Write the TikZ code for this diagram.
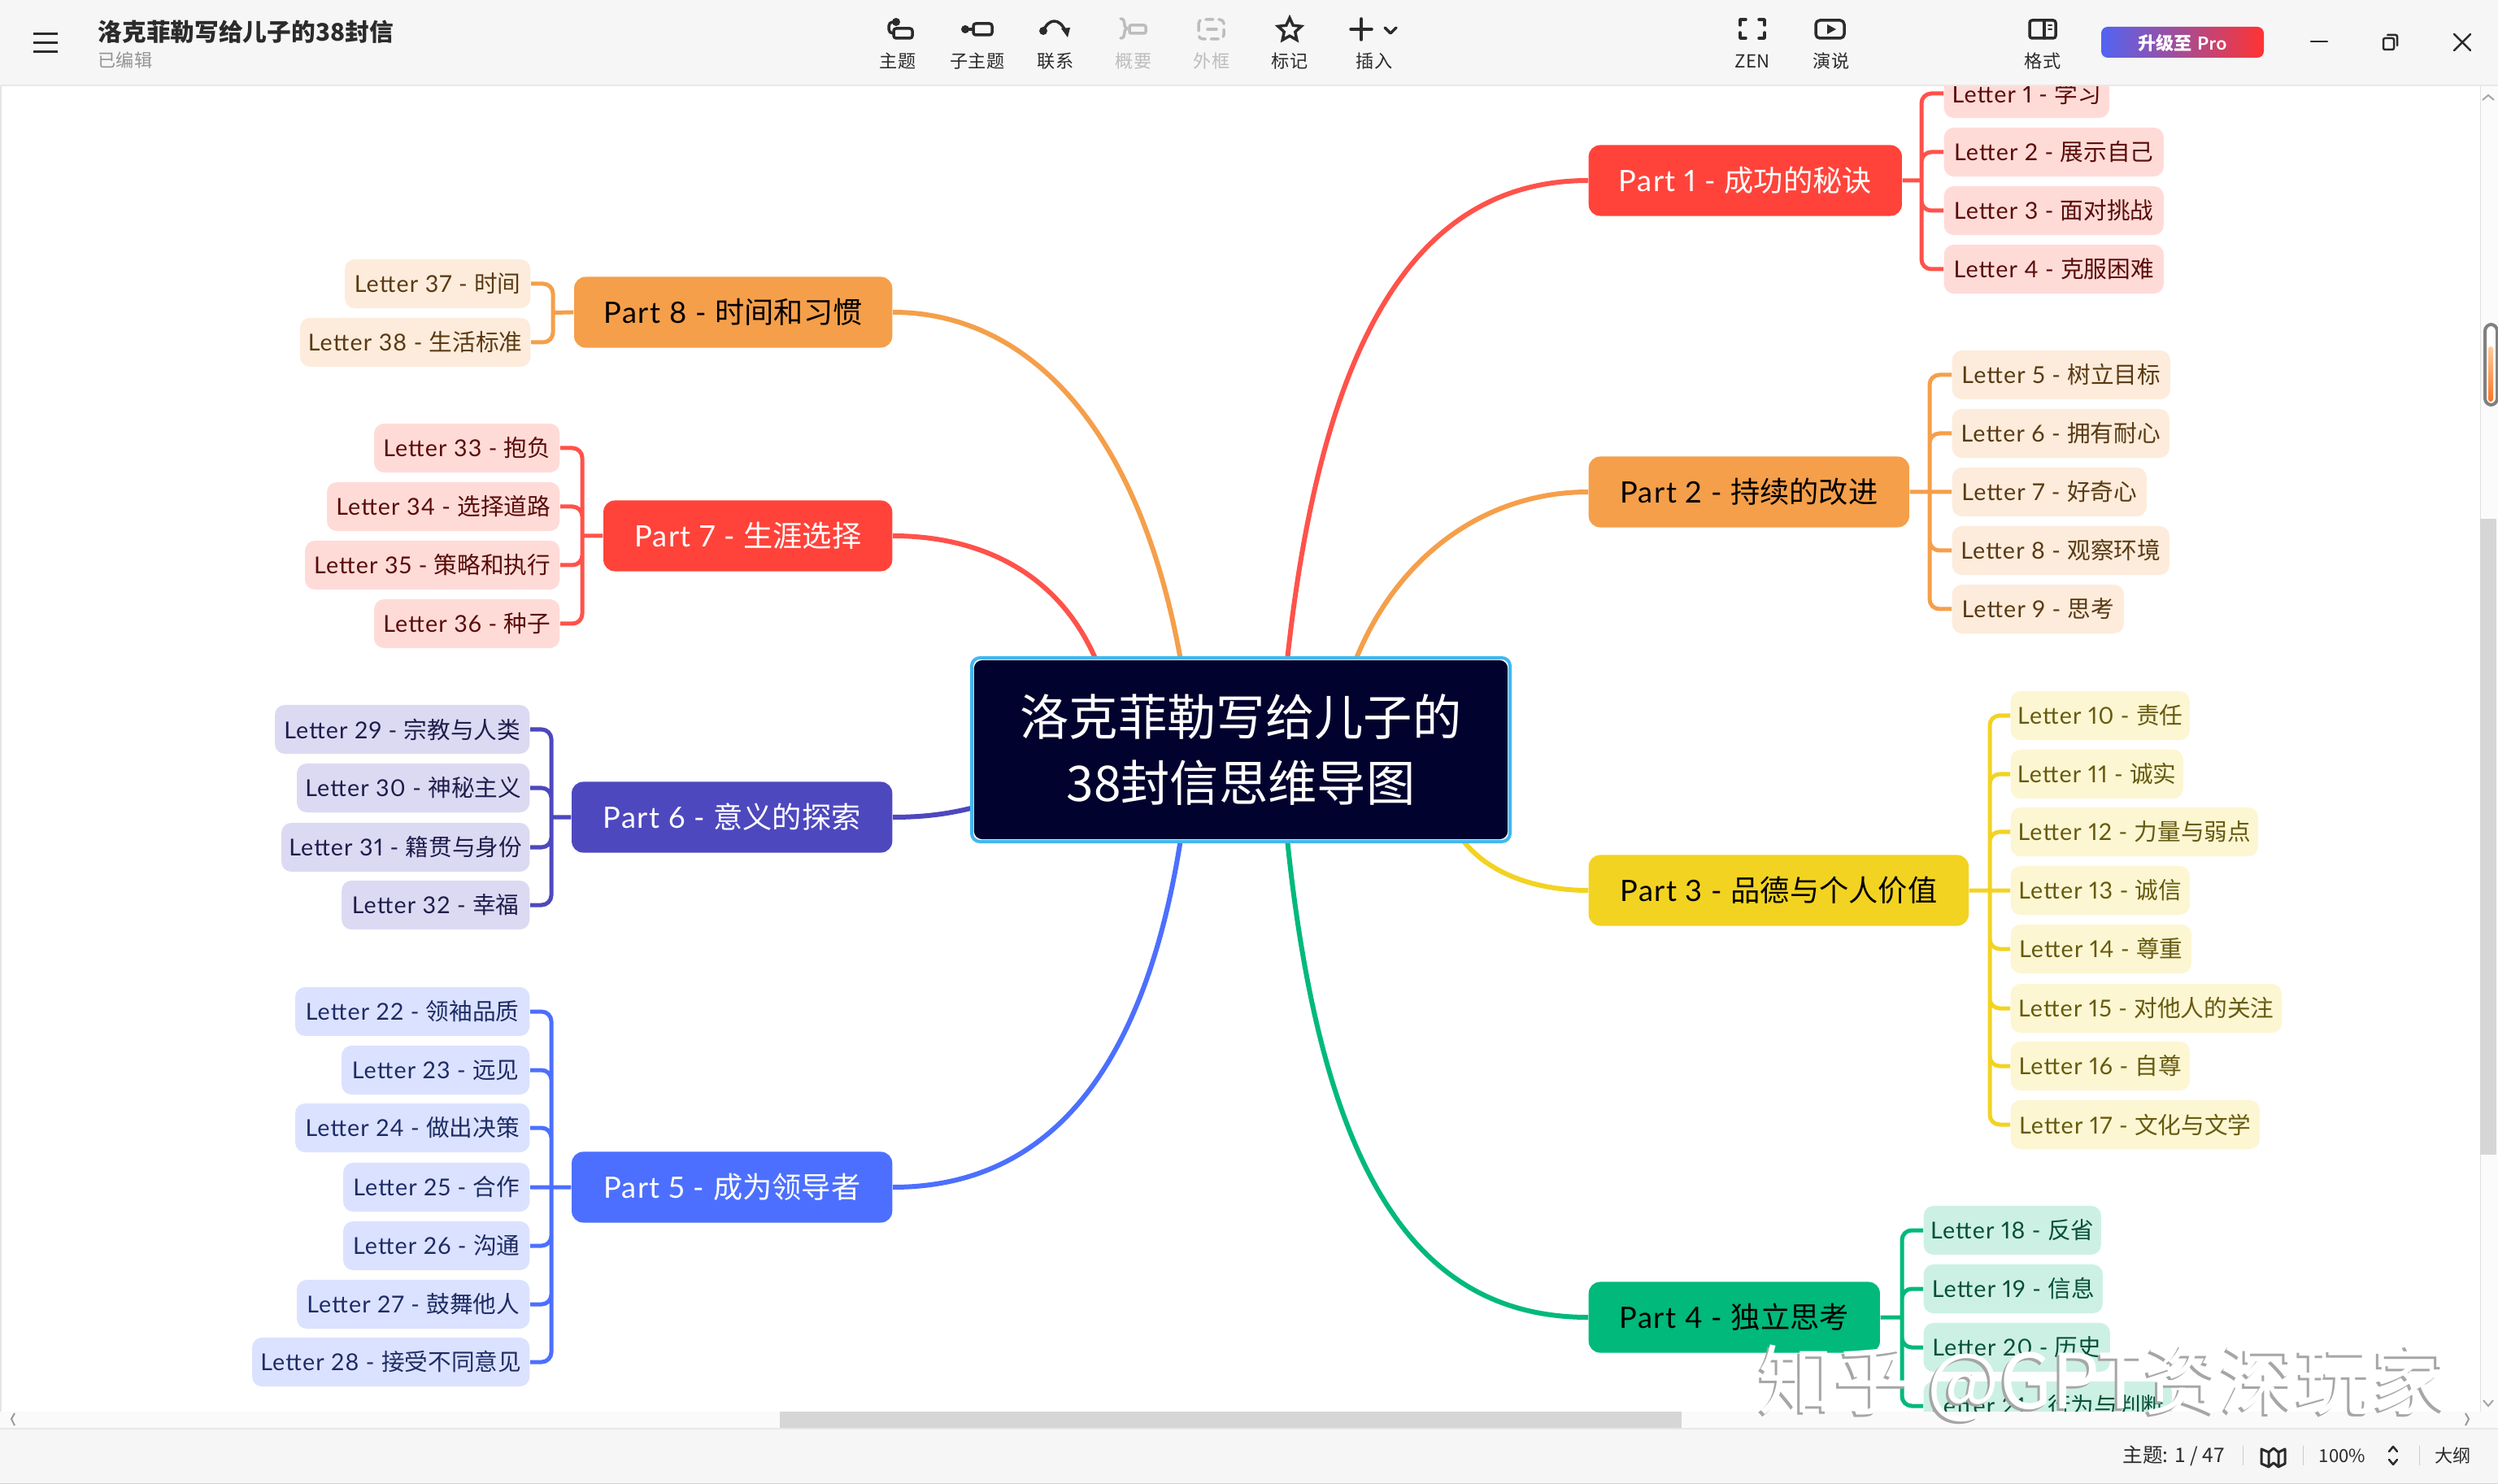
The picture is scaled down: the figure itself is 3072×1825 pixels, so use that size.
\documentclass[tikz,border=0pt]{standalone}
\usepackage{fontspec}
\setmainfont{Lato}[LetterSpace=4,Numbers=Proportional]
\newfontfamily\cjk{Noto Sans CJK SC}
\usetikzlibrary{arrows.meta,shapes.geometric}
\definecolor{barbg}{HTML}{F6F6F6}
\definecolor{icondark}{HTML}{2B2B2B}
\definecolor{icongray}{HTML}{BDBDBD}
\definecolor{rootdark}{HTML}{02022E}
\definecolor{rootframe}{HTML}{41B8F0}
\definecolor{cred}{HTML}{FF433A}
\definecolor{corange}{HTML}{F59F4A}
\definecolor{cyellow}{HTML}{F3D321}
\definecolor{cgreen}{HTML}{00B97A}
\definecolor{cblue}{HTML}{4C6FFF}
\definecolor{cindigo}{HTML}{4E48BE}
\definecolor{bgred}{HTML}{FFDBD8}
\definecolor{bgorange}{HTML}{FDECDB}
\definecolor{bgyellow}{HTML}{FCF6D2}
\definecolor{bggreen}{HTML}{CCF1E4}
\definecolor{bgblue}{HTML}{DBE2FF}
\definecolor{bgindigo}{HTML}{DCDAF2}
\definecolor{txred}{HTML}{5A0C08}
\definecolor{txorange}{HTML}{5A3A14}
\definecolor{txyellow}{HTML}{665A10}
\definecolor{txgreen}{HTML}{064F38}
\definecolor{txblue}{HTML}{1E2C66}
\definecolor{txindigo}{HTML}{1F1D4C}
\tikzset{
  leaf/.style={rounded corners=.12cm,minimum height=.6cm,inner sep=0pt,font=\fontsize{8.15}{10}\selectfont},
  part/.style={rounded corners=.14cm,minimum height=.87cm,inner sep=0pt,font=\fontsize{10.3}{12}\selectfont},
  curve/.style={line width=.06cm},
  branch/.style={line width=.05cm,rounded corners=.12cm},
  barlabel/.style={inner sep=0pt,text=icondark,font=\fontsize{6.3}{8}\selectfont\cjk},
  barlabeloff/.style={barlabel,text=icongray},
  statustext/.style={anchor=west,inner sep=0pt,text=icondark,font=\fontsize{6.3}{8}\selectfont\cjk},
  icon/.style={line width=.035cm,draw=icondark,line cap=round,line join=round},
  iconoff/.style={icon,draw=icongray},
}
\begin{document}
\begin{tikzpicture}[x=.01cm,y=-.01cm]
  \useasboundingbox (0,0) rectangle (3072,1825);
  \fill[white] (0,0) rectangle (3072,1825);

  %% Curves from the centre
  \coordinate (rootup1) at (1583,812);
  \coordinate (rootup2) at (1667,812);
  \coordinate (rootup7) at (1348,812);
  \coordinate (rootup8) at (1452,812);
  \coordinate (rootlow3) at (1798,1032);
  \coordinate (rootlow4) at (1583,1032);
  \coordinate (rootlow5) at (1452,1032);
  \coordinate (rootleft6) at (1198,993);

  %% Parts
  \node[part,anchor=west,fill=cred,text=white,minimum width=3.85cm] (part1) at (1953,222) {Part 1 - {\cjk 成功的秘诀}};
  \node[part,anchor=west,fill=corange,text=black,minimum width=3.94cm] (part2) at (1953,605) {Part 2 - {\cjk 持续的改进}};
  \node[part,anchor=west,fill=cyellow,text=black,minimum width=4.67cm] (part3) at (1953,1095) {Part 3 - {\cjk 品德与个人价值}};
  \node[part,anchor=west,fill=cgreen,text=black,minimum width=3.58cm] (part4) at (1953,1620) {Part 4 - {\cjk 独立思考}};
  \node[part,anchor=east,fill=cblue,text=white,minimum width=3.94cm] (part5) at (1098,1460) {Part 5 - {\cjk 成为领导者}};
  \node[part,anchor=east,fill=cindigo,text=white,minimum width=3.94cm] (part6) at (1098,1005) {Part 6 - {\cjk 意义的探索}};
  \node[part,anchor=east,fill=cred,text=white,minimum width=3.55cm] (part7) at (1098,659) {Part 7 - {\cjk 生涯选择}};
  \node[part,anchor=east,fill=corange,text=black,minimum width=3.91cm] (part8) at (1098,384) {Part 8 - {\cjk 时间和习惯}};

  \draw[curve,cred!92!white] (part1.west) .. controls (1740,222) and (1625,420) .. (rootup1);
  \draw[curve,corange] (part2.west) .. controls (1830,605) and (1720,680) .. (rootup2);
  \draw[curve,cyellow] (part3.west) .. controls (1890,1095) and (1830,1075) .. (rootlow3);
  \draw[curve,cgreen] (part4.west) .. controls (1740,1620) and (1625,1440) .. (rootlow4);
  \draw[curve,cblue] (part5.east) .. controls (1300,1460) and (1410,1300) .. (rootlow5);
  \draw[curve,cindigo] (part6.east) .. controls (1140,1005) and (1170,1000) .. (rootleft6);
  \draw[curve,cred!92!white] (part7.east) .. controls (1200,659) and (1300,700) .. (rootup7);
  \draw[curve,corange] (part8.east) .. controls (1260,384) and (1400,520) .. (rootup8);

  %% Centre topic
  \draw[rootframe,line width=.04cm,fill=white,rounded corners=.1cm] (1195,809) rectangle (1857,1035);
  \node[fill=rootdark,text=white,rounded corners=.1cm,minimum width=6.56cm,minimum height=2.2cm,inner sep=0pt,
        align=center,font=\fontsize{17.15}{22.8}\selectfont\cjk] (root) at (1526,922) {洛克菲勒写给儿子的\\38封信思维导图};

  %% Part 1
  \node[leaf,anchor=west,fill=bgred,text=txred,minimum width=2.03cm] (l1) at (2390,115) {Letter 1 - {\cjk 学习}};
  \node[leaf,anchor=west,fill=bgred,text=txred,minimum width=2.70cm] (l2) at (2390,187) {Letter 2 - {\cjk 展示自己}};
  \node[leaf,anchor=west,fill=bgred,text=txred,minimum width=2.70cm] (l3) at (2390,259) {Letter 3 - {\cjk 面对挑战}};
  \node[leaf,anchor=west,fill=bgred,text=txred,minimum width=2.70cm] (l4) at (2390,331) {Letter 4 - {\cjk 克服困难}};
  \coordinate (trunk1) at (2363,222);
  \draw[branch,cred!92!white] (part1.east) -- (trunk1) (trunk1) |- (l1.west) (trunk1) |- (l2.west) (trunk1) |- (l3.west) (trunk1) |- (l4.west);

  %% Part 2
  \node[leaf,anchor=west,fill=bgorange,text=txorange,minimum width=2.68cm] (l5) at (2400,461) {Letter 5 - {\cjk 树立目标}};
  \node[leaf,anchor=west,fill=bgorange,text=txorange,minimum width=2.67cm] (l6) at (2400,533) {Letter 6 - {\cjk 拥有耐心}};
  \node[leaf,anchor=west,fill=bgorange,text=txorange,minimum width=2.39cm] (l7) at (2400,605) {Letter 7 - {\cjk 好奇心}};
  \node[leaf,anchor=west,fill=bgorange,text=txorange,minimum width=2.67cm] (l8) at (2400,677) {Letter 8 - {\cjk 观察环境}};
  \node[leaf,anchor=west,fill=bgorange,text=txorange,minimum width=2.11cm] (l9) at (2400,749) {Letter 9 - {\cjk 思考}};
  \coordinate (trunk2) at (2373,605);
  \draw[branch,corange] (part2.east) -- (l7.west) (trunk2) |- (l5.west) (trunk2) |- (l6.west) (trunk2) |- (l8.west) (trunk2) |- (l9.west);

  %% Part 3
  \node[leaf,anchor=west,fill=bgyellow,text=txyellow,minimum width=2.20cm] (l10) at (2472,880) {Letter 10 - {\cjk 责任}};
  \node[leaf,anchor=west,fill=bgyellow,text=txyellow,minimum width=2.12cm] (l11) at (2472,952) {Letter 11 - {\cjk 诚实}};
  \node[leaf,anchor=west,fill=bgyellow,text=txyellow,minimum width=3.04cm] (l12) at (2472,1023) {Letter 12 - {\cjk 力量与弱点}};
  \node[leaf,anchor=west,fill=bgyellow,text=txyellow,minimum width=2.20cm] (l13) at (2472,1095) {Letter 13 - {\cjk 诚信}};
  \node[leaf,anchor=west,fill=bgyellow,text=txyellow,minimum width=2.22cm] (l14) at (2472,1167) {Letter 14 - {\cjk 尊重}};
  \node[leaf,anchor=west,fill=bgyellow,text=txyellow,minimum width=3.33cm] (l15) at (2472,1240) {Letter 15 - {\cjk 对他人的关注}};
  \node[leaf,anchor=west,fill=bgyellow,text=txyellow,minimum width=2.20cm] (l16) at (2472,1311) {Letter 16 - {\cjk 自尊}};
  \node[leaf,anchor=west,fill=bgyellow,text=txyellow,minimum width=3.06cm] (l17) at (2472,1383) {Letter 17 - {\cjk 文化与文学}};
  \coordinate (trunk3) at (2447,1095);
  \draw[branch,cyellow] (part3.east) -- (l13.west) (trunk3) |- (l10.west) (trunk3) |- (l11.west) (trunk3) |- (l12.west)
        (trunk3) |- (l14.west) (trunk3) |- (l15.west) (trunk3) |- (l16.west) (trunk3) |- (l17.west);

  %% Part 4
  \node[leaf,anchor=west,fill=bggreen,text=txgreen,minimum width=2.18cm] (l18) at (2365,1513) {Letter 18 - {\cjk 反省}};
  \node[leaf,anchor=west,fill=bggreen,text=txgreen,minimum width=2.20cm] (l19) at (2365,1585) {Letter 19 - {\cjk 信息}};
  \node[leaf,anchor=west,fill=bggreen,text=txgreen,minimum width=2.29cm] (l20) at (2365,1657) {Letter 20 - {\cjk 历史}};
  \node[leaf,anchor=west,fill=bggreen,text=txgreen,minimum width=3.05cm] (l21) at (2365,1729) {Letter 21 - {\cjk 行为与判断}};
  \coordinate (trunk4) at (2339,1620);
  \draw[branch,cgreen] (part4.east) -- (trunk4) (trunk4) |- (l18.west) (trunk4) |- (l19.west) (trunk4) |- (l20.west) (trunk4) |- (l21.west);

  %% Part 5
  \node[leaf,anchor=east,fill=bgblue,text=txblue,minimum width=2.88cm] (l22) at (652,1244) {Letter 22 - {\cjk 领袖品质}};
  \node[leaf,anchor=east,fill=bgblue,text=txblue,minimum width=2.31cm] (l23) at (652,1316) {Letter 23 - {\cjk 远见}};
  \node[leaf,anchor=east,fill=bgblue,text=txblue,minimum width=2.88cm] (l24) at (652,1387) {Letter 24 - {\cjk 做出决策}};
  \node[leaf,anchor=east,fill=bgblue,text=txblue,minimum width=2.29cm] (l25) at (652,1460) {Letter 25 - {\cjk 合作}};
  \node[leaf,anchor=east,fill=bgblue,text=txblue,minimum width=2.29cm] (l26) at (652,1532) {Letter 26 - {\cjk 沟通}};
  \node[leaf,anchor=east,fill=bgblue,text=txblue,minimum width=2.86cm] (l27) at (652,1604) {Letter 27 - {\cjk 鼓舞他人}};
  \node[leaf,anchor=east,fill=bgblue,text=txblue,minimum width=3.41cm] (l28) at (652,1675) {Letter 28 - {\cjk 接受不同意见}};
  \coordinate (trunk5) at (678,1460);
  \draw[branch,cblue] (part5.west) -- (l25.east) (trunk5) |- (l22.east) (trunk5) |- (l23.east) (trunk5) |- (l24.east)
        (trunk5) |- (l26.east) (trunk5) |- (l27.east) (trunk5) |- (l28.east);

  %% Part 6
  \node[leaf,anchor=east,fill=bgindigo,text=txindigo,minimum width=3.13cm] (l29) at (652,897) {Letter 29 - {\cjk 宗教与人类}};
  \node[leaf,anchor=east,fill=bgindigo,text=txindigo,minimum width=2.86cm] (l30) at (652,969) {Letter 30 - {\cjk 神秘主义}};
  \node[leaf,anchor=east,fill=bgindigo,text=txindigo,minimum width=3.05cm] (l31) at (652,1042) {Letter 31 - {\cjk 籍贯与身份}};
  \node[leaf,anchor=east,fill=bgindigo,text=txindigo,minimum width=2.31cm] (l32) at (652,1113) {Letter 32 - {\cjk 幸福}};
  \coordinate (trunk6) at (678,1005);
  \draw[branch,cindigo] (part6.west) -- (trunk6) (trunk6) |- (l29.east) (trunk6) |- (l30.east) (trunk6) |- (l31.east) (trunk6) |- (l32.east);

  %% Part 7
  \node[leaf,anchor=east,fill=bgred,text=txred,minimum width=2.28cm] (l33) at (689,551) {Letter 33 - {\cjk 抱负}};
  \node[leaf,anchor=east,fill=bgred,text=txred,minimum width=2.86cm] (l34) at (689,623) {Letter 34 - {\cjk 选择道路}};
  \node[leaf,anchor=east,fill=bgred,text=txred,minimum width=3.13cm] (l35) at (689,695) {Letter 35 - {\cjk 策略和执行}};
  \node[leaf,anchor=east,fill=bgred,text=txred,minimum width=2.28cm] (l36) at (689,767) {Letter 36 - {\cjk 种子}};
  \coordinate (trunk7) at (716,659);
  \draw[branch,cred!92!white] (part7.west) -- (trunk7) (trunk7) |- (l33.east) (trunk7) |- (l34.east) (trunk7) |- (l35.east) (trunk7) |- (l36.east);

  %% Part 8
  \node[leaf,anchor=east,fill=bgorange,text=txorange,minimum width=2.28cm] (l37) at (653,349) {Letter 37 - {\cjk 时间}};
  \node[leaf,anchor=east,fill=bgorange,text=txorange,minimum width=2.83cm] (l38) at (653,421) {Letter 38 - {\cjk 生活标准}};
  \coordinate (trunk8) at (680,384.5);
  \draw[branch,corange] (part8.west) -- (trunk8) (trunk8) |- (l37.east) (trunk8) |- (l38.east);

  %% Right and bottom scrollbars
  \fill[gray!20] (0,105) rectangle (2,1736);
  \fill[black!1.5] (3050,105) rectangle (3072,1736);
  \fill[gray!25] (3050,105) rectangle (3051,1736);
  \fill[black!16] (3050,638) rectangle (3070,1420);
  \draw[black!35,line width=.02cm] (3053,123) -- (3060,117) -- (3067,123);
  \draw[black!35,line width=.02cm] (3054,1722) -- (3060,1729) -- (3066,1722);
  \fill[black!2] (0,1736) rectangle (3072,1756);
  \fill[black!16] (959,1736) rectangle (2068,1756);
  \draw[black!40,line width=.02cm] (18,1738) -- (14,1745) -- (18,1753);
  \draw[black!40,line width=.02cm] (3032,1738) -- (3036,1745) -- (3032,1753);
  \draw[black!50,line width=.04cm,fill=white,rounded corners=.08cm] (3056,399) rectangle (3071,498);
  \shade[top color=orange!40!white,bottom color=orange!70!red!85,rounded corners=.03cm] (3060,426) rectangle (3066,494);

  %% Top bar
  \fill[barbg] (0,0) rectangle (3072,104);
  \fill[black!9] (0,104) rectangle (3072,106);
  \draw[line width=.03cm,icondark] (41,42) -- (71,42) (41,53) -- (71,53) (41,64) -- (71,64);
  \node[anchor=west,inner sep=0pt,text=icondark,font=\fontsize{8.45}{10}\selectfont\bfseries\cjk] (title) at (120,39) {洛克菲勒写给儿子的38封信};
  \node[anchor=west,inner sep=0pt,text=black!42,font=\fontsize{6.3}{8}\selectfont\cjk] (edited) at (120,74) {已编辑};

  \node[barlabel] (topic) at (1104,75) {主题};
  \node[barlabel] (subtopic) at (1202,75) {子主题};
  \node[barlabel] (relation) at (1298,75) {联系};
  \node[barlabeloff] (summary) at (1394,75) {概要};
  \node[barlabeloff] (boundary) at (1490,75) {外框};
  \node[barlabel] (marker) at (1586,75) {标记};
  \node[barlabel] (insert) at (1690,75) {插入};
  \node[barlabel] (zen) at (2155,75) {ZEN};
  \node[barlabel] (pitch) at (2252,75) {演说};
  \node[barlabel] (format) at (2512,75) {格式};

  %% Top bar icons
  \fill[icondark] (1102,27) circle (5);
  \draw[icon,rounded corners=.05cm] (1102,27) -- (1093,27) -- (1093,41) -- (1098,41);
  \draw[icon,rounded corners=.03cm] (1099,35) rectangle (1122,47);
  \fill[icondark] (1187,36) circle (5);
  \draw[icon] (1187,36) -- (1197,36);
  \draw[icon,rounded corners=.03cm] (1197,29) rectangle (1220,43);
  \fill[icondark] (1283,38) circle (5);
  \draw[icon] (1283,38) .. controls (1290,22) and (1303,22) .. (1310,38);
  \fill[icondark] (1305,35) -- (1316,34) -- (1313,46) -- cycle;
  \draw[iconoff] (1378,23) .. controls (1386,23) and (1380,34) .. (1386,35) .. controls (1380,36) and (1386,47) .. (1378,47);
  \draw[iconoff,rounded corners=.02cm] (1389,31) rectangle (1409,41);
  \draw[iconoff,dashed,dash pattern=on .09cm off .07cm,rounded corners=.05cm] (1474,24) rectangle (1505,48);
  \draw[iconoff] (1485,36) -- (1496,36);
  \node[star,star points=5,star point ratio=2.1,draw=icondark,line width=.035cm,inner sep=0pt,minimum size=.3cm] (staricon) at (1586,37) {};
  \draw[icon] (1661,36) -- (1687,36) (1674,23) -- (1674,49);
  \draw[icon] (1703,34) -- (1710,41) -- (1717,34);
  \draw[icon] (2140,31) -- (2140,24) -- (2147,24) (2163,24) -- (2170,24) -- (2170,31) (2140,40) -- (2140,47) -- (2147,47) (2163,47) -- (2170,47) -- (2170,40);
  \draw[icon,rounded corners=.05cm] (2233,25) rectangle (2268,47);
  \fill[icondark] (2247,30) -- (2258,36) -- (2247,42) -- cycle;
  \draw[icon,rounded corners=.03cm] (2496,25) rectangle (2528,47);
  \draw[icon] (2514,25) -- (2514,47);
  \draw[icon,line width=.02cm] (2519,31) -- (2523,31) (2519,36) -- (2523,36);

  %% Upgrade button and window controls
  \shade[left color=cblue!90!violet,right color=red!80!white,rounded corners=.08cm] (2584,33) rectangle (2784,71);
  \node[inner sep=0pt,text=white,font=\fontsize{6.3}{8}\selectfont\bfseries] (upgrade) at (2684,53) {{\cjk\bfseries 升级至} Pro};
  \draw[icon,line width=.025cm] (2842,51) -- (2862,51);
  \draw[icon,line width=.025cm,rounded corners=.02cm] (2931,47) rectangle (2944,61);
  \draw[icon,line width=.025cm,rounded corners=.02cm] (2936,43) -- (2948,43) -- (2948,56);
  \draw[icon,line width=.025cm] (3018,42) -- (3038,62) (3038,42) -- (3018,62);

  %% Status bar
  \fill[black!9] (0,1756) rectangle (3072,1758);
  \fill[barbg] (0,1758) rectangle (3072,1824);
  \fill[black!18] (0,1824) rectangle (3072,1825);
  \node[statustext,font=\fontsize{7}{8}\selectfont\cjk] (topiccount) at (2610,1790) {主题: 1 / 47};
  \node[statustext] (zoomvalue) at (2851,1790) {100\%};
  \node[statustext] (outline) at (2994,1790) {大纲};
  \draw[black!20,line width=.01cm] (2758,1778) -- (2758,1802) (2832,1778) -- (2832,1802) (2975,1778) -- (2975,1802);
  \draw[icon,line width=.03cm] (2781,1782) -- (2790,1786) -- (2796,1781) -- (2802,1786) -- (2810,1782) -- (2810,1800) -- (2802,1804) -- (2796,1799) -- (2790,1804) -- (2781,1800) -- cycle (2790,1786) -- (2790,1804) (2802,1786) -- (2802,1804);
  \draw[icon,line width=.025cm] (2938,1785) -- (2943,1779) -- (2948,1785) (2938,1795) -- (2943,1801) -- (2948,1795);

  %% Watermark
  \node[anchor=west,inner sep=0pt,text=black!35,font=\fontsize{26.6}{30}\selectfont\cjk] (markshadow) at (2159,1704) {知乎 @GPT资深玩家};
  \node[anchor=west,inner sep=0pt,text=white,font=\fontsize{26.6}{30}\selectfont\cjk] (markfront) at (2162,1701) {知乎 @GPT资深玩家};
\end{tikzpicture}
\end{document}
